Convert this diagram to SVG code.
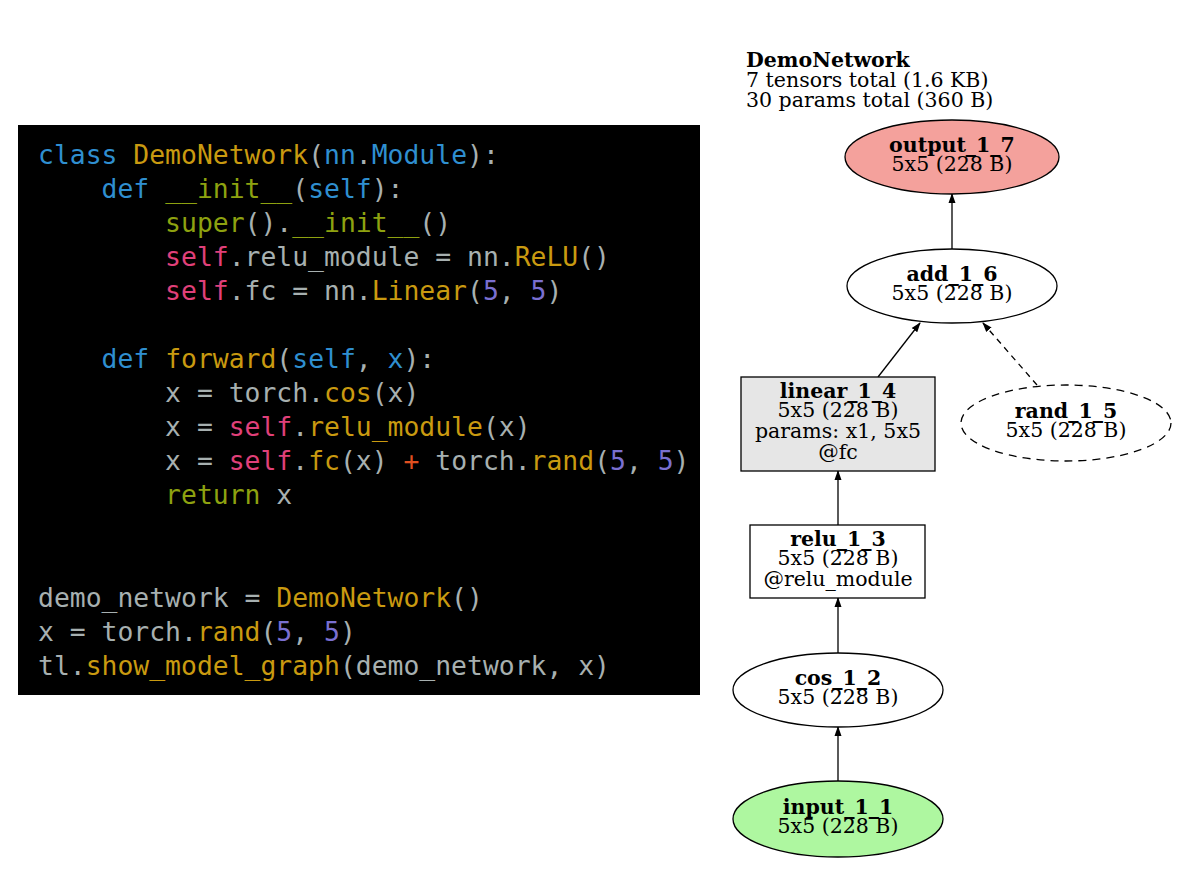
<svg xmlns="http://www.w3.org/2000/svg" width="1200" height="892" viewBox="0 0 1200 892">
<style>
.c{font-family:"DejaVu Sans Mono",monospace;font-size:26.4px;fill:#a7b0b0;white-space:pre}
.b{fill:#2f8fd0}.y{fill:#c99a10}.g{fill:#8ea210}.p{fill:#e0407a}.v{fill:#7a6fd0}.o{fill:#e05020}
.t{font-family:"DejaVu Serif","Liberation Serif",serif;font-size:20.5px;fill:#000;text-anchor:middle}
.h{font-family:"DejaVu Serif","Liberation Serif",serif;font-size:20.5px;fill:#000}
.bd{font-weight:bold}
.n{stroke:#000;stroke-width:1.3}
.e{stroke:#000;stroke-width:1.3;fill:none;marker-end:url(#a)}
</style>
<defs><marker id="a" markerWidth="10" markerHeight="10" refX="9" refY="5" orient="auto" markerUnits="userSpaceOnUse"><path d="M0,1.5 L10,5 L0,8.5z" fill="#000"/></marker></defs>
<rect width="1200" height="892" fill="#fff"/>
<g id="code">
<rect x="18" y="125" width="682" height="570" fill="#000"/>
<text class="c" x="38" y="164" xml:space="preserve"><tspan class="b">class </tspan><tspan class="y">DemoNetwork</tspan>(<tspan class="b">nn</tspan>.<tspan class="b">Module</tspan>):</text>
<text class="c" x="38" y="198" xml:space="preserve">    <tspan class="b">def </tspan><tspan class="g">__init__</tspan>(<tspan class="b">self</tspan>):</text>
<text class="c" x="38" y="232" xml:space="preserve">        <tspan class="g">super</tspan>().<tspan class="g">__init__</tspan>()</text>
<text class="c" x="38" y="266" xml:space="preserve">        <tspan class="p">self</tspan>.relu_module = nn.<tspan class="y">ReLU</tspan>()</text>
<text class="c" x="38" y="300" xml:space="preserve">        <tspan class="p">self</tspan>.fc = nn.<tspan class="y">Linear</tspan>(<tspan class="v">5</tspan>, <tspan class="v">5</tspan>)</text>
<text class="c" x="38" y="368" xml:space="preserve">    <tspan class="b">def </tspan><tspan class="y">forward</tspan>(<tspan class="b">self</tspan>, <tspan class="b">x</tspan>):</text>
<text class="c" x="38" y="402" xml:space="preserve">        x = torch.<tspan class="y">cos</tspan>(x)</text>
<text class="c" x="38" y="436" xml:space="preserve">        x = <tspan class="p">self</tspan>.<tspan class="y">relu_module</tspan>(x)</text>
<text class="c" x="38" y="470" xml:space="preserve">        x = <tspan class="p">self</tspan>.<tspan class="y">fc</tspan>(x) <tspan class="o">+</tspan> torch.<tspan class="y">rand</tspan>(<tspan class="v">5</tspan>, <tspan class="v">5</tspan>)</text>
<text class="c" x="38" y="504" xml:space="preserve">        <tspan class="g">return</tspan> x</text>
<text class="c" x="38" y="607" xml:space="preserve">demo_network = <tspan class="y">DemoNetwork</tspan>()</text>
<text class="c" x="38" y="641" xml:space="preserve">x = torch.<tspan class="y">rand</tspan>(<tspan class="v">5</tspan>, <tspan class="v">5</tspan>)</text>
<text class="c" x="38" y="675" xml:space="preserve">tl.<tspan class="y">show_model_graph</tspan>(demo_network, x)</text>
</g>
<g id="title">
<text class="h bd" x="746" y="67">DemoNetwork</text>
<text class="h" x="746" y="87">7 tensors total (1.6 KB)</text>
<text class="h" x="746" y="107">30 params total (360 B)</text>
</g>
<g id="connectors">
<line class="e" x1="952" y1="249" x2="952" y2="194"/>
<line class="e" x1="878" y1="377" x2="920" y2="323"/>
<line class="e" x1="1037" y1="385" x2="983" y2="323" stroke-dasharray="6,5"/>
<line class="e" x1="838" y1="525" x2="838" y2="471"/>
<line class="e" x1="838" y1="653" x2="838" y2="598"/>
<line class="e" x1="838" y1="781" x2="838" y2="727"/>
</g>
<g id="output_1_7"><ellipse class="n" cx="952" cy="157" rx="107" ry="37" fill="#f4a19c"/><text class="t bd" x="952" y="152">output_1_7</text><text class="t" x="952" y="171">5x5 (228 B)</text></g>
<g id="add_1_6"><ellipse class="n" cx="952" cy="286" rx="105" ry="37" fill="#fff"/><text class="t bd" x="952" y="281">add_1_6</text><text class="t" x="952" y="300">5x5 (228 B)</text></g>
<g id="linear_1_4"><rect class="n" x="741" y="377" width="194" height="94" fill="#e6e6e6"/><text class="t bd" x="838" y="398">linear_1_4</text><text class="t" x="838" y="417">5x5 (228 B)</text><text class="t" x="838" y="438">params: x1, 5x5</text><text class="t" x="838" y="459">@fc</text></g>
<g id="rand_1_5"><ellipse class="n" cx="1066" cy="423" rx="105" ry="38" fill="#fff" stroke-dasharray="8,6"/><text class="t bd" x="1066" y="418">rand_1_5</text><text class="t" x="1066" y="437">5x5 (228 B)</text></g>
<g id="relu_1_3"><rect class="n" x="750" y="525" width="175" height="73" fill="#fff"/><text class="t bd" x="838" y="546">relu_1_3</text><text class="t" x="838" y="565">5x5 (228 B)</text><text class="t" x="838" y="586">@relu_module</text></g>
<g id="cos_1_2"><ellipse class="n" cx="838" cy="690" rx="105" ry="37" fill="#fff"/><text class="t bd" x="838" y="685">cos_1_2</text><text class="t" x="838" y="704">5x5 (228 B)</text></g>
<g id="input_1_1"><ellipse class="n" cx="838" cy="819" rx="105" ry="38" fill="#aef7a0"/><text class="t bd" x="838" y="814">input_1_1</text><text class="t" x="838" y="833">5x5 (228 B)</text></g>
</svg>
